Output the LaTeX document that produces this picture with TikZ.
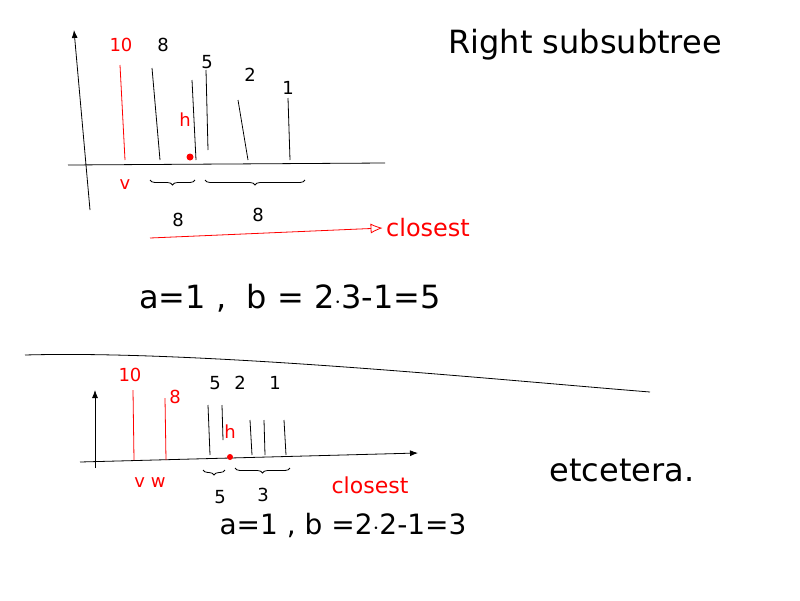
\documentclass[tikz,border=0pt]{standalone}
\usepackage{fontspec}
\setmainfont{DejaVu Sans}
\usetikzlibrary{decorations.pathreplacing,arrows.meta}
\tikzset{
  redbar/.style={draw=red, thick},
  blackbar/.style={draw=black, thick},
  redtxt/.style={text=red, font=\fontsize{18}{20}\selectfont},
  blacktxt/.style={text=black, font=\fontsize{18}{20}\selectfont},
  bigtxt/.style={font=\fontsize{32}{36}\selectfont},
  wavy/.style={decorate, decoration={brace, mirror, amplitude=5pt}, thick}
}
\begin{document}
\begin{tikzpicture}[x=1pt,y=-1pt,>={Latex[length=8pt]}]
  \useasboundingbox (0,0) rectangle (800,600);
  \fill[white] (0,0) rectangle (800,600);

  % upper picture
  \coordinate (ax0) at (90,210);
  \coordinate (ax1) at (74,30);
  \draw[thick,->] (ax0) -- (ax1);
  \coordinate (h0) at (68,165);
  \coordinate (h1) at (385,163);
  \draw[thick] (h0) -- (h1);
  \draw[redbar] (120,65) -- (125,160);
  \draw[blackbar] (152,68) -- (160,160);
  \draw[blackbar] (192,80) -- (196,160);
  \draw[blackbar] (206,70) -- (208,150);
  \draw[blackbar] (238,100) -- (248,160);
  \draw[blackbar] (288,98) -- (290,160);
  \node[redtxt] (t10) at (121,45) {10};
  \node[blacktxt] (t8) at (163,45) {8};
  \node[blacktxt] (t5) at (207,62) {5};
  \node[blacktxt] (t2) at (250,75) {2};
  \node[blacktxt] (t1) at (288,88) {1};
  \node[redtxt] (th) at (185,120) {h};
  \fill[red] (190,157) circle (3.5pt);
  \node[redtxt] (tv) at (125,185) {v};
  \draw[wavy] (150,180) -- (195,180);
  \draw[wavy] (205,180) -- (305,180);
  \node[blacktxt] (b8a) at (178,220) {8};
  \node[blacktxt] (b8b) at (258,215) {8};
  \node[redtxt, font=\fontsize{24}{26}\selectfont] (cl1) at (428,228) {closest};
  \coordinate (ar0) at (150,238);
  \draw[red,thick,-{Latex[open,length=12pt,width=10pt]}] (ar0) -- (cl1.west);
  \node[bigtxt] (eq1) at (290,298) {a=1 ,\ \ b = 2$\cdot$3-1=5};
  \node[bigtxt] (title) at (585,45) {Right subsubtree};

  % separator
  \coordinate (s0) at (25,355);
  \coordinate (s1) at (650,392);
  \draw[thick] (s0) .. controls (200,350) and (500,380) .. (s1);

  % lower picture
  \coordinate (bx0) at (95,468);
  \coordinate (bx1) at (95,390);
  \draw[thick,->] (bx0) -- (bx1);
  \coordinate (bh0) at (80,462);
  \coordinate (bh1) at (418,453);
  \draw[thick,->] (bh0) -- (bh1);
  \draw[redbar] (133,390) -- (134,460);
  \draw[redbar] (165,398) -- (166,460);
  \draw[blackbar] (208,405) -- (210,455);
  \draw[blackbar] (222,405) -- (223,440);
  \draw[blackbar] (250,420) -- (252,455);
  \draw[blackbar] (264,420) -- (265,455);
  \draw[blackbar] (284,420) -- (286,455);
  \node[redtxt] (u10) at (130,375) {10};
  \node[redtxt] (u8) at (175,397) {8};
  \node[blacktxt] (u5) at (215,383) {5};
  \node[blacktxt] (u2) at (240,383) {2};
  \node[blacktxt] (u1) at (275,383) {1};
  \node[redtxt] (uh) at (230,432) {h};
  \fill[red] (230,457) circle (3pt);
  \node[redtxt] (uvw) at (150,483) {v w};
  \draw[wavy] (203,470) -- (225,470);
  \draw[wavy] (235,468) -- (290,468);
  \node[blacktxt] (c5) at (220,497) {5};
  \node[blacktxt] (c3) at (263,495) {3};
  \node[redtxt, font=\fontsize{22}{24}\selectfont] (cl2) at (370,485) {closest};
  \node[bigtxt] (etc) at (622,470) {etcetera.};
  \node[bigtxt, font=\fontsize{28}{30}\selectfont] (eq2) at (343,525) {a=1 , b =2$\cdot$2-1=3};
\end{tikzpicture}
\end{document}
